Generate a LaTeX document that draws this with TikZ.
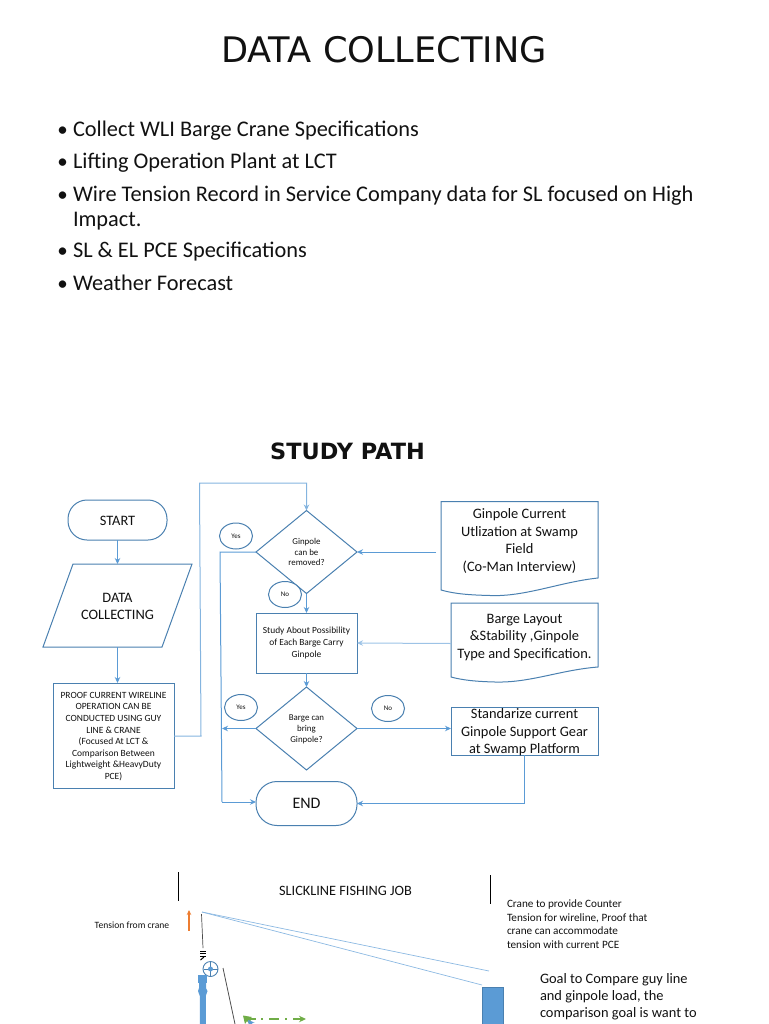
\documentclass[tikz,border=0pt]{standalone}
\usepackage{fontspec}
\setmainfont{Carlito}
\newfontfamily\dejavu{DejaVu Sans}
\usetikzlibrary{arrows.meta,shapes.geometric}
\definecolor{fl}{HTML}{5B9BD5}
\definecolor{flb}{HTML}{4A80B0}
\definecolor{txt}{HTML}{111111}
\definecolor{grn}{HTML}{70AD47}
\definecolor{org}{HTML}{ED7D31}
\tikzset{
 x=1pt,y=-1pt,
 every node/.style={inner sep=0pt,outer sep=0pt,text=txt},
 shp/.style={draw=flb,line width=1pt,fill=white},
 conn/.style={draw=fl,line width=1pt},
 arr/.style={conn,-{Stealth[length=6pt,width=5.5pt]}},
 lab/.style={align=center,font=\fontsize{14.4}{17.4}\selectfont},
 tiny/.style={align=center,font=\fontsize{8.9}{10.9}\selectfont},
 bullet/.style={anchor=base west,font=\fontsize{22.35}{25}\selectfont},
 bdot/.style={anchor=base,font=\fontsize{21}{25}\selectfont},
 dec/.style={shp,ellipse,minimum width=33pt,minimum height=26pt,font=\fontsize{7}{8}\selectfont},
 diam/.style={shp,diamond,minimum width=101pt,minimum height=83pt,aspect=1.2},
}
\begin{document}
\begin{tikzpicture}
\useasboundingbox (0,0) rectangle (768,1024);
\clip (0,0) rectangle (768,1024);
% titles
\node (title) at (384,50) {\dejavu\fontsize{35.2}{40}\selectfont DATA COLLECTING};
\node (study) at (347.5,451) {\dejavu\bfseries\fontsize{22.4}{26}\selectfont STUDY PATH};
% bullets
\foreach \yy/\nn in {136.5/d1,168.5/d2,201.5/d3,258/d4,290/d5}{\node[bdot] (\nn x) at (62.5,\yy) {•};}
\node[bullet] (b1) at (73,136.5) {Collect WLI Barge Crane Specifications};
\node[bullet] (b2) at (73,168.5) {Lifting Operation Plant at LCT};
\node[bullet] (b3) at (73,201.5) {Wire Tension Record in Service Company data for SL focused on High};
\node[bullet] (b3b) at (73,226.5) {Impact.};
\node[bullet] (b4) at (73,258) {SL \& EL PCE Specifications};
\node[bullet] (b5) at (73,290) {Weather Forecast};
% flow nodes
\node[shp,rounded corners=19pt,minimum width=99pt,minimum height=40pt] (start) at (117.5,520) {};
\node[lab] (startt) at (117.5,521) {START};
\path[shp] (73,564) -- (192,564) -- (162,647) -- (43,647) -- cycle;
\node[lab] (data) at (117.5,606.5) {DATA\\COLLECTING};
\coordinate (datatop) at (117.5,564);
\coordinate (databot) at (117.5,647);
\node[shp,minimum width=121pt,minimum height=105pt] (proof) at (113.5,735.5) {};
\node[align=center,font=\fontsize{9.5}{11.6}\selectfont] (prooft) at (113.5,736.5) {PROOF CURRENT WIRELINE\\OPERATION CAN BE\\CONDUCTED USING GUY\\LINE \& CRANE\\(Focused At LCT \&\\Comparison Between\\Lightweight \&HeavyDuty\\PCE)};
\node[diam] (d1) at (306.5,552) {};
\node[tiny] (d1t) at (306.5,552) {Ginpole\\can be\\removed?};
\node[shp,minimum width=101pt,minimum height=60pt,font=\fontsize{9.4}{12}\selectfont,align=center] (sbox) at (306.5,643) {Study About Possibility\\of Each Barge Carry\\Ginpole};
\node[diam] (d2) at (306.5,728.5) {};
\node[tiny] (d2t) at (306.5,729) {Barge can\\bring\\Ginpole?};
\node[shp,rounded corners=21pt,minimum width=101pt,minimum height=44pt,font=\fontsize{16}{19}\selectfont] (end) at (306.5,803.5) {END};
\node[dec] (y1) at (236,536) {Yes};
\node[dec] (n1) at (285,594.5) {No};
\node[dec] (y2) at (241,707.5) {Yes};
\node[dec] (n2) at (388,708.5) {No};
% documents
\path[shp] (441,501.5) -- (598,501.5) -- (598,578) .. controls (560,582) and (525,597) .. (490,595.5) .. controls (470,595) and (455,594) .. (441,590) -- cycle;
\node[lab] (doc1) at (519.5,541) {Ginpole Current\\Utlization at Swamp\\Field\\(Co-Man Interview)};
\path[shp] (451,603) -- (598,603) -- (598,667) .. controls (560,670) and (530,683) .. (495,682) .. controls (475,681.5) and (462,680) .. (451,677) -- cycle;
\node[lab] (doc2) at (524.5,637.5) {Barge Layout\\\&Stability ,Ginpole\\Type and Specification.};
\node[shp,minimum width=147pt,minimum height=48pt] (std) at (524.5,731) {};
\node[lab] (stdt) at (524.5,732.5) {Standarize current\\Ginpole Support Gear\\at Swamp Platform};
% helper coordinates
\coordinate (c1) at (436,552);
\coordinate (c2) at (451,643.5);
\coordinate (c3) at (222,728.5);
\coordinate (c4) at (524.5,803.5);
\coordinate (c5) at (201,736);
\coordinate (c6) at (199.5,483);
\coordinate (c7) at (306.5,483);
\coordinate (c8) at (220,552);
\coordinate (c9) at (222,802);
% connectors
\draw[arr] (start.south) -- (datatop);
\draw[arr] (databot) -- (proof.north -| databot);
\draw[arr,draw=fl!75] (proof.east |- c5) -- (c5) -- (c6) -- (c7) -- (d1.north);
\draw[arr] (d1.south) -- (sbox.north);
\draw[arr] (sbox.south) -- (d2.north);
\draw[arr] (c1) -- (d1.east);
\draw[arr,draw=fl!60] (c2) -- (sbox.east);
\draw[arr] (d2.east) -- (std.west |- d2.east);
\draw[arr] (d2.west) -- (c3);
\draw[conn] (d1.west) -- (c8) -- (c9);
\draw[arr] (c9) -- (end.west |- c9);
\draw[conn] (std.south) -- (c4);
\draw[arr] (c4) -- (end.east);
% lower sketch
\coordinate (v1a) at (178,872); \coordinate (v1b) at (178,901);
\coordinate (v2a) at (490,875); \coordinate (v2b) at (490,904);
\draw[black,line width=.9pt] (v1a) -- (v1b);
\draw[black,line width=.9pt] (v2a) -- (v2b);
\node (job) at (345.5,891) {\fontsize{14.3}{17}\selectfont SLICKLINE FISHING JOB};
\node (tens) at (132,925) {\fontsize{9.6}{11}\selectfont Tension from crane};
\node[anchor=north west,align=left,font=\fontsize{11.2}{13.8}\selectfont] (crane) at (507,899.5) {Crane to provide Counter\\Tension for wireline, Proof that\\crane can accommodate\\tension with current PCE};
\node[anchor=north west,align=left,font=\fontsize{14.4}{17.2}\selectfont] (goal) at (540,973) {Goal to Compare guy line\\and ginpole load, the\\comparison goal is want to};
\draw[{Stealth[length=5pt,width=4.5pt]}-,draw=org,line width=1.4pt] (189,910) -- (189,931);
\coordinate (top) at (202,912);
\coordinate (w1) at (489,971);
\coordinate (w2) at (482,985);
\draw[draw=fl!70,line width=.7pt] (top) -- (w1);
\draw[draw=fl!70,line width=.7pt] (top) -- (w2);
\draw[black!70,line width=.7pt] (201.5,914) -- (203,948);
\foreach \yy in {951,953.5,956}{\draw[black,line width=.8pt] (200,\yy) -- (206,\yy);}
\draw[black,line width=1pt] (200.5,960) -- (204,957);
% pole
\draw[flb,line width=.9pt] (210.5,969) circle[radius=7.5];
\draw[flb,line width=1pt] (203.5,969) -- (217.5,969) (210.5,962) -- (210.5,976);
\fill[fl] (210.5,969) circle[radius=2.5];
\fill[fl] (198,975) rectangle (207,983);
\fill[fl] (199,983) -- (206,983) -- (206,988) -- (207.5,991) -- (205.8,996) -- (205.8,1024) -- (199.8,1024) -- (199.8,996) -- (198,991) -- (199,988) -- cycle;
\fill[fl] (482,987) rectangle (503,1024);
\draw[flb,line width=.5pt] (482,987) rectangle (503,1024);
\draw[black!70,line width=.8pt] (223,968) -- (235,1024);
\coordinate (g1) at (249,1019);
\coordinate (g2) at (306,1019);
\draw[-{Stealth[length=7pt,width=6.5pt]},draw=grn,line width=1.4pt,dash pattern=on 7pt off 5pt on 2pt off 6pt on 10pt off 6pt on 2pt off 6pt on 9pt off 0pt] (g1) -- (g2);
\fill[grn] (243,1015.5) -- (252,1017) -- (249.5,1019) -- (251,1021) -- (249,1023) -- (247,1021) -- (245,1024) -- cycle;
\draw[-{Stealth[length=6pt,width=7pt]},draw=fl,line width=2.2pt] (256,1030) -- (248,1020);
\end{tikzpicture}
\end{document}
